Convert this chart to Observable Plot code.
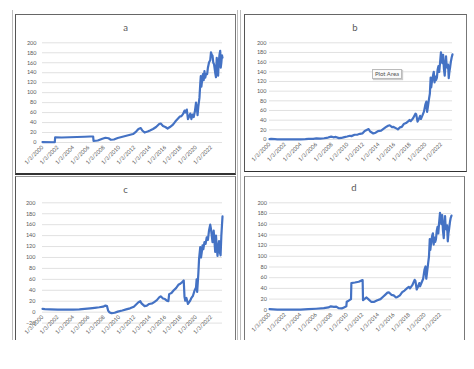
<!DOCTYPE html>
<html><head><meta charset="utf-8">
<script src="https://cdn.jsdelivr.net/npm/d3@7"></script>
<script src="https://cdn.jsdelivr.net/npm/@observablehq/plot@0.6"></script>
<style>
html,body{margin:0;padding:0;background:#fff;}
body{width:474px;height:369px;position:relative;overflow:hidden;font-family:Lato,"Open Sans",sans-serif;}
.box{position:absolute;box-sizing:border-box;}
.vl{position:absolute;width:0;border-left:1px solid #bdbdbd;}
.plot{position:absolute;}
.plot svg{overflow:visible;}
.title{position:absolute;text-align:center;font-size:9.5px;line-height:10px;color:#595959;}
.tip{position:absolute;font-size:6px;line-height:8px;color:#555;background:#fafafa;border:1px solid #bbb;box-shadow:1px 1px 1px #ccc;padding:0 2px;}
</style></head><body>
<script>
const titles = ["a", "b", "c", "d"];
const xTickYears = [2000, 2002, 2004, 2006, 2008, 2010, 2012, 2014, 2016, 2018, 2020, 2022];
const yTicks = [0, 20, 40, 60, 80, 100, 120, 140, 160, 180, 200];
const yTicksC = [-20, 0, 20, 40, 60, 80, 100, 120, 140, 160, 180, 200];
const tipText = "Plot Area";

const aX = [2000.0,2001.6,2001.65,2002.5,2003.5,2004.5,2005.5,2006.2,2006.6,2006.65,2007.2,2007.8,2008.2,2008.6,2008.9,2009.3,2009.8,2010.3,2010.8,2011.3,2011.8,2012.2,2012.5,2012.8,2013.0,2013.3,2013.7,2014.0,2014.4,2014.8,2015.2,2015.4,2015.7,2016.0,2016.3,2016.6,2017.0,2017.3,2017.6,2017.9,2018.1,2018.3,2018.5,2018.6,2018.8,2018.95,2019.1,2019.25,2019.4,2019.55,2019.7,2019.85,2020.0,2020.1,2020.2,2020.3,2020.45,2020.55,2020.62,2020.7,2020.8,2020.9,2021.0,2021.1,2021.2,2021.3,2021.45,2021.55,2021.7,2021.85,2021.95,2022.05,2022.15,2022.25,2022.35,2022.5,2022.6,2022.7,2022.8,2022.88,2022.95,2023.05,2023.15,2023.22,2023.3,2023.38,2023.45];
const aY = [0.8,0.5,10.5,10.0,10.5,11.0,11.5,12.0,12.0,3.0,4.0,7.5,9.5,8.5,5.5,6.0,9.0,11.0,13.0,15.0,17.0,22.0,27.0,29.0,24.0,20.0,22.0,24.0,27.0,31.0,37.0,38.0,33.0,31.0,28.0,31.0,36.0,42.0,47.0,52.0,53.0,57.0,64.0,60.0,66.0,47.0,52.0,58.0,47.0,56.0,51.0,62.0,80.0,70.0,55.0,72.0,90.0,117.0,133.0,112.0,125.0,137.0,125.0,143.0,130.0,137.0,137.0,150.0,161.0,165.0,181.0,176.0,174.0,160.0,157.0,140.0,131.0,170.0,150.0,134.0,160.0,175.0,184.0,150.0,160.0,175.0,170.0];

const bX = [2000.0,2000.2,2000.7,2001.0,2002.0,2003.0,2004.0,2004.6,2005.0,2005.6,2006.0,2006.5,2007.0,2007.5,2007.9,2008.2,2008.5,2008.9,2009.2,2009.6,2009.95,2010.3,2010.5,2010.9,2011.3,2011.6,2011.9,2012.2,2012.7,2012.9,2013.3,2013.6,2013.9,2014.3,2014.6,2014.9,2015.2,2015.4,2015.7,2015.9,2016.3,2016.45,2016.7,2016.95,2017.2,2017.5,2017.8,2017.95,2018.1,2018.4,2018.7,2018.8,2018.97,2019.1,2019.3,2019.4,2019.6,2019.8,2019.97,2020.1,2020.2,2020.3,2020.45,2020.55,2020.65,2020.72,2020.8,2020.95,2021.05,2021.15,2021.25,2021.35,2021.45,2021.55,2021.65,2021.75,2021.85,2021.97,2022.05,2022.15,2022.25,2022.35,2022.45,2022.55,2022.62,2022.7,2022.8,2022.88,2022.97,2023.05,2023.15,2023.25,2023.35,2023.45];
const bY = [0.9,1.1,0.6,0.3,0.4,0.3,0.4,0.7,1.2,1.4,2.3,1.8,2.6,4.0,6.0,4.5,5.3,2.8,3.2,5.0,6.3,7.8,7.0,9.8,10.2,11.8,12.5,17.5,21.5,16.5,12.5,14.0,17.5,18.5,22.0,25.5,28.5,29.5,25.5,26.0,22.5,21.0,25.0,26.0,32.0,34.0,38.0,40.5,38.0,44.0,53.5,52.0,37.0,41.0,49.0,42.5,50.0,58.0,72.0,78.5,57.0,68.0,85.0,95.0,128.0,108.0,118.0,132.0,140.0,118.0,130.0,123.0,128.0,145.0,152.0,140.0,158.0,180.0,172.0,158.0,175.0,146.0,132.0,158.0,172.0,152.0,148.0,155.0,127.0,140.0,150.0,162.0,170.0,176.0];

const cX = [2000.0,2000.3,2001.0,2002.0,2003.0,2004.0,2004.8,2005.5,2006.2,2006.8,2007.4,2007.9,2008.2,2008.4,2008.55,2008.7,2009.0,2009.4,2009.8,2010.4,2010.9,2011.4,2011.9,2012.2,2012.5,2012.75,2012.9,2013.3,2013.6,2013.9,2014.3,2014.6,2014.9,2015.2,2015.4,2015.7,2015.95,2016.2,2016.4,2016.5,2016.8,2017.1,2017.4,2017.7,2017.95,2018.2,2018.4,2018.5,2018.6,2018.75,2018.95,2019.2,2019.4,2019.6,2019.8,2020.0,2020.08,2020.15,2020.3,2020.4,2020.55,2020.65,2020.75,2020.85,2020.95,2021.1,2021.25,2021.4,2021.55,2021.7,2021.85,2021.95,2022.05,2022.15,2022.3,2022.4,2022.5,2022.6,2022.7,2022.8,2022.9,2023.0,2023.1,2023.2,2023.3,2023.45];
const cY = [6,5.5,5,4.5,4.5,4.5,5,6,7,8,9,10,12,11,3,0,-2,-1,1,3,5,7,10,14,18,20,16,11,12,15,16,19,22,27,29,25,24,21,20,33,35,40,44,50,52,55,58,28,21,26,15,20,26,30,39,45,60,37,70,98,119,100,110,122,115,128,125,137,132,150,160,152,140,128,149,130,110,140,120,103,118,130,110,104,140,175];

const dX = [2000.0,2000.5,2001.0,2002.0,2003.0,2004.0,2005.0,2006.0,2007.0,2007.6,2007.9,2008.3,2008.6,2008.9,2009.3,2009.6,2009.9,2009.95,2010.2,2010.5,2010.55,2011.0,2011.5,2011.9,2012.0,2012.05,2012.3,2012.5,2012.8,2013.1,2013.5,2013.9,2014.3,2014.6,2014.9,2015.2,2015.4,2015.7,2016.0,2016.3,2016.5,2016.8,2017.1,2017.4,2017.7,2017.95,2018.1,2018.4,2018.7,2018.8,2018.97,2019.1,2019.3,2019.4,2019.6,2019.8,2019.97,2020.1,2020.2,2020.3,2020.45,2020.55,2020.65,2020.72,2020.8,2020.95,2021.05,2021.15,2021.25,2021.35,2021.45,2021.55,2021.65,2021.75,2021.85,2021.97,2022.05,2022.15,2022.25,2022.35,2022.45,2022.55,2022.62,2022.7,2022.8,2022.88,2022.97,2023.05,2023.15,2023.25,2023.35,2023.45];
const dY = [1.2,0.8,0.4,0.4,0.3,0.5,1.2,2.0,3.0,4.5,6.5,5.5,6.0,3.0,2.5,4.5,6.5,15.0,17.0,20.0,50.0,51.0,52.5,55.0,55.5,18.0,21.0,23.0,19.0,15.0,15.0,18.0,20.0,24.0,28.0,32.0,32.5,28.0,27.0,23.0,24.0,27.0,33.0,36.0,40.0,43.0,40.0,46.0,56.0,54.0,38.0,42.0,50.0,44.0,51.0,58.0,75.0,81.0,58.0,70.0,88.0,100.0,132.0,112.0,122.0,138.0,143.0,122.0,135.0,127.0,132.0,148.0,155.0,143.0,162.0,181.0,174.0,160.0,177.0,148.0,134.0,162.0,175.0,153.0,150.0,158.0,128.0,142.0,152.0,164.0,172.0,176.0];

// layout (page coordinates)
const panels = [
  {xs: aX, ys: aY, ticks: yTicks, dom: [0, 200], left: 15, top: 15, w: 221, h: 160, ml: 27, mr: 14, mt: 27.3, mb: 33, pad: 6, titleTop: 23},
  {xs: bX, ys: bY, ticks: yTicks, dom: [0, 200], left: 244, top: 15, w: 222, h: 156, ml: 25, mr: 14, mt: 27.3, mb: 32, pad: 3, titleTop: 23},
  {xs: cX, ys: cY, ticks: yTicksC, dom: [-20, 200], left: 15, top: 176, w: 221, h: 164, ml: 27, mr: 14, mt: 26.3, mb: 17.4, pad: 7, titleTop: 185},
  {xs: dX, ys: dY, ticks: yTicks, dom: [0, 200], left: 244, top: 176, w: 220, h: 164, ml: 25, mr: 13, mt: 26.3, mb: 30.7, pad: 2.5, titleTop: 183}
];

function addDiv(cls, css, text) {
  const d = document.createElement("div");
  d.className = cls;
  Object.assign(d.style, css);
  if (text != null) d.textContent = text;
  document.body.appendChild(d);
  return d;
}

// worksheet frame lines
addDiv("vl", {left: "12px", top: "10px", height: "330px"});
addDiv("vl", {left: "237px", top: "10px", height: "330px"});
addDiv("vl", {left: "240px", top: "10px", height: "330px"});
// panel borders
addDiv("box", {left: "15px", top: "14px", width: "221px", height: "161px", borderLeft: "1.5px solid #555", borderTop: "1px solid #666", borderRight: "1px solid #777", borderBottom: "2px solid #333"});
addDiv("box", {left: "243.5px", top: "14px", width: "223px", height: "158px", borderLeft: "1.5px solid #555", borderTop: "1px solid #666", borderRight: "1px solid #777", borderBottom: "1.5px solid #333"});
addDiv("box", {left: "15px", top: "176px", width: "221px", height: "164px", borderLeft: "1.5px solid #555", borderTop: "1px solid #999", borderRight: "1px solid #777"});
addDiv("box", {left: "243.5px", top: "176px", width: "221px", height: "164px", borderLeft: "1px solid #777", borderTop: "1px solid #999", borderRight: "1.5px solid #777"});

panels.forEach((p, i) => {
  const data = p.xs.map((x, k) => ({x, y: p.ys[k]}));
  const chart = Plot.plot({
    width: p.w, height: p.h,
    marginLeft: p.ml, marginRight: p.mr, marginTop: p.mt, marginBottom: p.mb,
    style: {fontSize: "5.5px", fontFamily: "Lato, 'Open Sans', sans-serif", color: "#595959", background: "transparent"},
    x: {domain: [2000, 2023.45], axis: null},
    y: {domain: p.dom, label: null},
    marks: [
      Plot.gridY(p.ticks, {stroke: "#d9d9d9", strokeOpacity: 1, strokeWidth: 0.8}),
      Plot.axisY(p.ticks, {tickSize: 0, tickPadding: p.pad, fill: "#595959", label: null}),
      Plot.text(xTickYears, {x: d => d, y: () => 0, text: d => `1/3/${d}`, rotate: -45, textAnchor: "end", lineAnchor: "middle", dy: 4, fill: "#595959"}),
      Plot.line(data, {x: "x", y: "y", stroke: "#4472C4", strokeWidth: 2.2, strokeLinejoin: "round"})
    ]
  });
  const holder = addDiv("plot", {left: p.left + "px", top: p.top + "px", width: p.w + "px", height: p.h + "px"});
  holder.appendChild(chart);
  addDiv("title", {left: p.left + "px", top: p.titleTop + "px", width: p.w + "px"}, titles[i]);
});

addDiv("tip", {left: "372px", top: "69px"}, tipText);
</script>
</body></html>
